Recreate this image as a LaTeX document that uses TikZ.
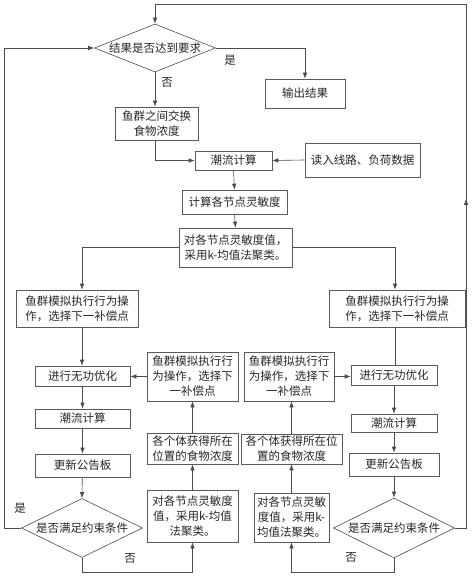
\documentclass[tikz,border=0pt]{standalone}
\usepackage{fontspec}
\newfontfamily\cjk{Noto Sans CJK SC}
\usetikzlibrary{shapes.geometric,arrows.meta}
\begin{document}
\begin{tikzpicture}[x=1pt,y=-1pt,
  box/.style={draw=black!65, line width=0.6pt, rectangle, inner sep=0pt, align=center,
    font=\cjk\fontsize{11.5}{15}\selectfont, text=black!85},
  dia/.style={draw=black!70, line width=0.6pt, diamond, inner sep=0pt},
  lab/.style={font=\cjk\fontsize{11.5}{15}\selectfont, text=black!85},
  line/.style={draw=black!70, line width=0.6pt},
  arr/.style={line, -{Latex[length=6pt,width=4.5pt]}}]
\useasboundingbox (0,0) rectangle (474,577);
% top section
\node[dia, minimum width=121pt, minimum height=48pt,
  label={[lab,name=d1t]center:结果是否达到要求}] (d1) at (155,48) {};
\node[box, minimum width=80pt, minimum height=29pt] (out) at (305,93.5) {输出结果};
\node[box, minimum width=83pt, minimum height=33pt] (fish1) at (156.5,123.5) {鱼群之间交换\\食物浓度};
\node[box, minimum width=77pt, minimum height=19pt] (flow1) at (233.5,160.5) {潮流计算};
\node[box, minimum width=115pt, minimum height=34pt] (read) at (362.5,160) {读入线路、负荷数据};
\node[box, minimum width=105pt, minimum height=24pt] (sens) at (234.5,202) {计算各节点灵敏度};
\node[box, minimum width=113pt, minimum height=39pt] (clus) at (235.5,247.5) {对各节点灵敏度值，\\采用k-均值法聚类。};
\node[box, minimum width=122pt, minimum height=37pt] (LF) at (77,308.5) {鱼群模拟执行行为操\\作，选择下一补偿点};
\node[box, minimum width=136pt, minimum height=37pt] (RF) at (397,308.5) {鱼群模拟执行行为操\\作，选择下一补偿点};
% left column
\node[box, minimum width=95pt, minimum height=20pt] (LO) at (82.5,376) {进行无功优化};
\node[box, minimum width=95pt, minimum height=19pt] (LFl) at (82.5,418.5) {潮流计算};
\node[box, minimum width=95pt, minimum height=23pt] (LU) at (82.5,465.5) {更新公告板};
\node[dia, minimum width=121pt, minimum height=59pt,
  label={[lab,name=LDt]center:是否满足约束条件}] (LD) at (82,528) {};
\node[box, minimum width=91pt, minimum height=49pt] (LS) at (192.5,376.5) {鱼群模拟执行行\\为操作，选择下\\一补偿点};
\node[box, minimum width=91pt, minimum height=31pt] (LG) at (192.5,448.5) {各个体获得所在\\位置的食物浓度};
\node[box, minimum width=91pt, minimum height=52pt] (LK) at (192.5,516) {对各节点灵敏度\\值，采用k-均值\\法聚类。};
% right column
\node[box, minimum width=86pt, minimum height=20pt] (RO) at (394,375) {进行无功优化};
\node[box, minimum width=86pt, minimum height=18pt] (RFl) at (394,423) {潮流计算};
\node[box, minimum width=90pt, minimum height=23pt] (RU) at (394,464.5) {更新公告板};
\node[dia, minimum width=121pt, minimum height=60pt,
  label={[lab,name=RDt]center:是否满足约束条件}] (RD) at (394,528) {};
\node[box, minimum width=90pt, minimum height=49pt] (RS) at (289,376.5) {鱼群模拟执行行\\为操作，选择下\\一补偿点};
\node[box, minimum width=101pt, minimum height=30pt] (RG) at (291.5,449) {各个体获得所在位\\置的食物浓度};
\node[box, minimum width=75pt, minimum height=49pt] (RK) at (291.5,517.5) {对各节点灵敏\\度值，采用k-\\均值法聚类。};
% labels
\node[lab] (y1) at (230,60) {是};
\node[lab] (n1) at (167,82) {否};
\node[lab] (y2) at (20,508) {是};
\node[lab] (n2) at (130,558) {否};
\node[lab] (n3) at (351,557) {否};
% helper coordinates
\coordinate (lx) at (4,0);
\coordinate (rx) at (466,0);
\coordinate (topy) at (0,4);
\coordinate (fy) at (0,160);
\coordinate (cl) at (82,0);
\coordinate (cr) at (395,0);
\coordinate (by) at (0,572);
\coordinate (ra1) at (466,240);
\coordinate (ra2) at (466,199);
% connectors top
\draw[arr] (d1.east) -| (out.north);
\draw[arr] (d1.south) -- (fish1.north -| d1.south);
\draw[arr] (fish1.south -| d1.south) |- (flow1.west);
\draw[arr] (read.west) -- (flow1.east);
\draw[arr] (flow1.south) -- (sens.north);
\draw[arr] (sens.south) -- (clus.north);
\draw[arr] (clus.west) -| (LF.north -| cl);
\draw[arr] (clus.east) -| (RF.north -| cr);
% left column
\draw[arr] (LF.south -| cl) -- (LO.north -| cl);
\draw[arr] (LO) -- (LFl);
\draw[arr] (LFl) -- (LU);
\draw[arr] (LU) -- (LD.north);
\draw[arr] (LS.west) -- (LO.east |- LS.west);
\draw[arr] (LK) -- (LG);
\draw[arr] (LG) -- (LS);
\draw[arr] (LD.south) -- (LD.south |- by) -| (LK.south);
\draw[arr] (LD.west) -| (lx |- d1.west) -- (d1.west);
% right column
\draw[line] (RF.south -| cr) -- (RO.north -| cr);
\draw[arr] (RO) -- (RFl);
\draw[arr] (RFl) -- (RU);
\draw[arr] (RU) -- (RD.north);
\draw[arr] (RS.east) -- (RO.west |- RS.east);
\draw[arr] (RK) -- (RG.south -| RK);
\draw[arr] (RG.north -| RK) -- (RS.south -| RK);
\draw[arr] (RD.south) -- (RD.south |- by) -| (RK.south);
\draw[arr] (RD.east) -| (rx |- topy) -| (d1.north);
\draw[arr] (ra1) -- (ra2);
\end{tikzpicture}
\end{document}
